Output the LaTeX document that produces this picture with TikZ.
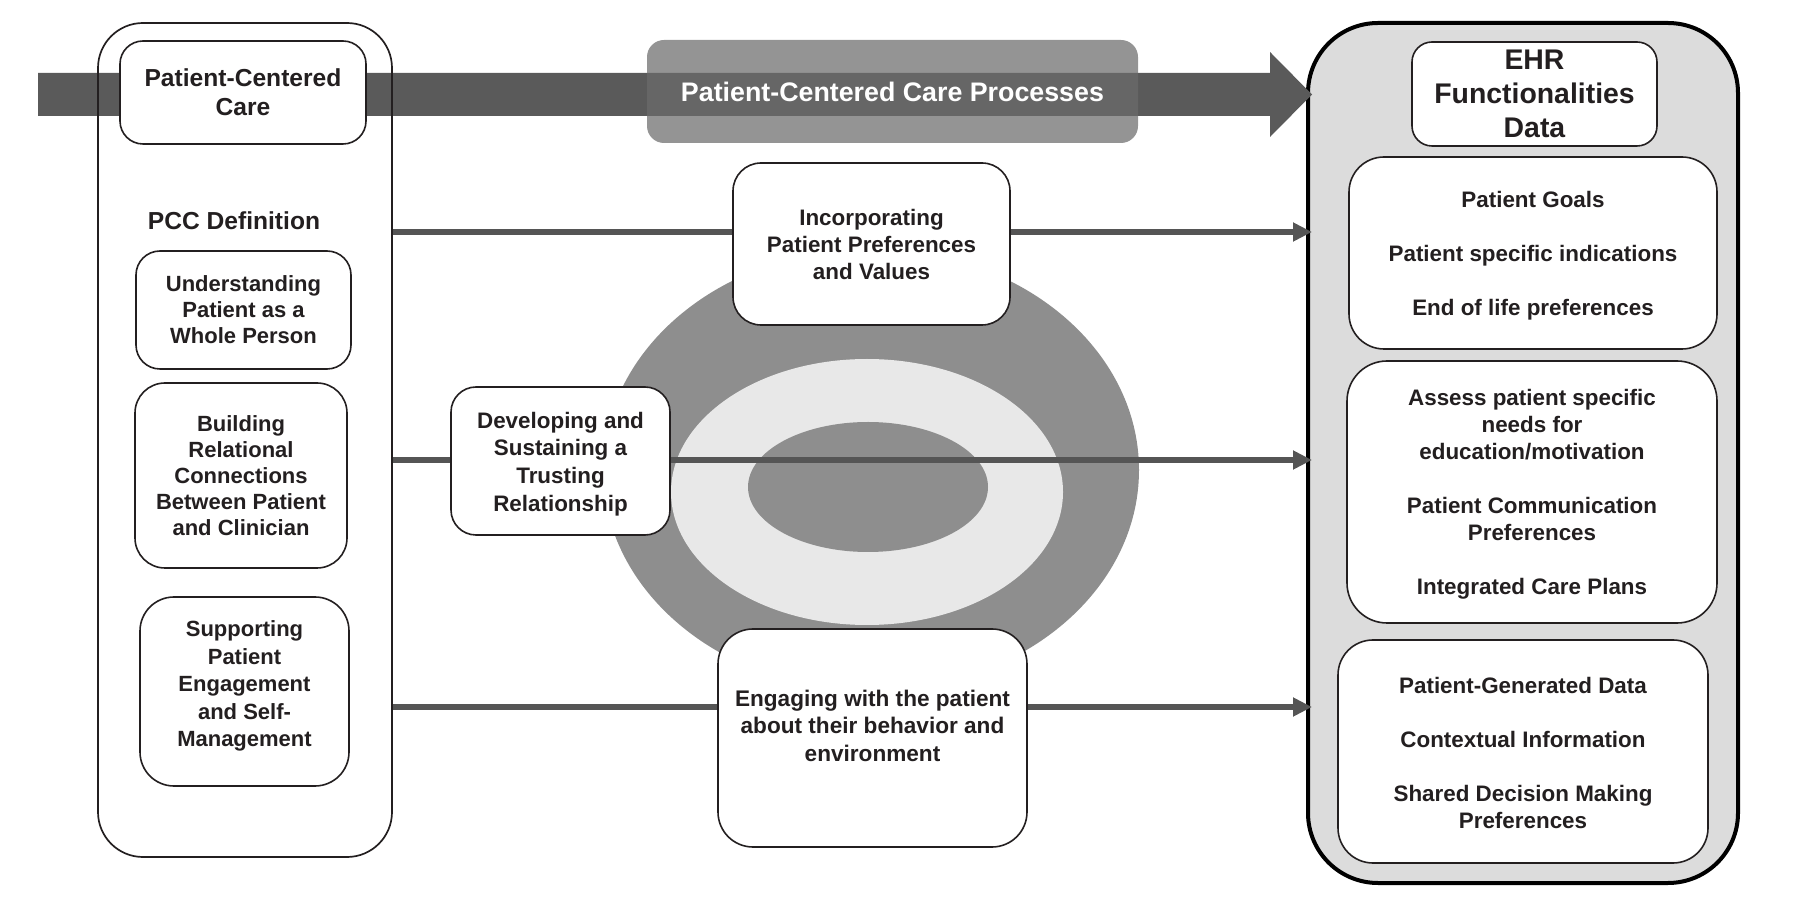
\documentclass[tikz,border=0pt]{standalone}
\usepackage{fontspec}
\setmainfont{Liberation Sans}
\usetikzlibrary{arrows.meta}
\definecolor{bandgray}{RGB}{90,90,90}
\definecolor{ringdark}{RGB}{142,142,142}
\definecolor{ringlight}{RGB}{232,232,232}
\definecolor{conngray}{RGB}{85,85,85}
\definecolor{panelgray}{RGB}{220,220,220}
\definecolor{ink}{RGB}{35,31,32}
\definecolor{titlefill}{RGB}{107,107,107}
\begin{document}
\begin{tikzpicture}[x=0.5pt,y=-0.5pt,
  text=ink,
  box/.style={draw=ink, line width=0.8pt, fill=white, rounded corners=#1, align=center, inner sep=0pt},
  box/.default=12pt,
  body/.style={font=\fontsize{11.2}{13.5}\selectfont\bfseries, align=center},
  lbody/.style={font=\fontsize{11}{13}\selectfont\bfseries, align=center},
  conn/.style={draw=conngray, line width=3pt, -{Triangle[length=9.5pt,width=9pt]}},
]
\useasboundingbox (0,0) rectangle (1805,897);

% target rings
\fill[ringdark] (871,470) ellipse [x radius=134pt, y radius=110.5pt];
\fill[ringlight] (867,492) ellipse [x radius=98pt, y radius=66.5pt];
\fill[ringdark] (868,487) ellipse [x radius=60pt, y radius=32.5pt];

% right panel
\node[draw=black, line width=2pt, fill=panelgray, rounded corners=35pt, minimum width=215pt, minimum height=430pt, inner sep=0pt] (ehr) at (1523,453) {};
\node[box=10pt, minimum width=122.5pt, minimum height=52pt, font=\fontsize{14.2}{17}\selectfont\bfseries] (ehrtitle) at (1534.5,94) {EHR\\Functionalities\\Data};
\node[box=17.5pt, minimum width=184pt, minimum height=96pt] (r1) at (1533,253) {};
\node[body] (r1text) at ([yshift=-1.5pt]r1.center) {Patient Goals\\[13.5pt]Patient specific indications\\[13.5pt]End of life preferences};
\node[box=20pt, minimum width=185pt, minimum height=131pt] (r2) at (1532,492) {};
\node[body] (r2text) at ([yshift=-1.2pt]r2.center) {Assess patient specific\\needs for\\education/motivation\\[13.5pt]Patient Communication\\Preferences\\[13.5pt]Integrated Care Plans};
\node[box=17.5pt, minimum width=185pt, minimum height=111.5pt] (r3) at (1523,751.5) {};
\node[body] (r3text) at ([yshift=-0.8pt]r3.center) {Patient-Generated Data\\[13.5pt]Contextual Information\\[13.5pt]Shared Decision Making\\Preferences};

% process band
\fill[bandgray] (38,73) -- (1270,73) -- (1270,52) -- (1312,94.5) -- (1270,137) -- (1270,116) -- (38,116) -- cycle;
\node[fill=titlefill, fill opacity=0.72, text opacity=1, text=white, rounded corners=8.5pt, minimum width=245.5pt, minimum height=51.5pt, inner sep=0pt, font=\fontsize{13.4}{16}\selectfont\bfseries] (title) at (892.5,91.5) {Patient-Centered Care Processes};

% left column frame
\node[draw=ink, line width=0.85pt, rounded corners=22.5pt, minimum width=147pt, minimum height=417pt, inner sep=0pt] (pcc) at (245,440) {};

% connectors
\coordinate (c1) at (0,232);
\coordinate (c2) at (0,460);
\coordinate (c3) at (0,707);
\draw[conn] (pcc.east |- c1) -- ([xshift=3pt]ehr.west |- c1);
\draw[conn] (pcc.east |- c2) -- ([xshift=3pt]ehr.west |- c2);
\draw[conn] (pcc.east |- c3) -- ([xshift=3pt]ehr.west |- c3);

% middle boxes
\node[box=14pt, body, minimum width=138.5pt, minimum height=81pt] (inc) at (871.5,244) {Incorporating\\Patient Preferences\\and Values};
\node[box=12.5pt, minimum width=109.5pt, minimum height=74pt] (dev) at (560.5,461) {};
\node[body, font=\fontsize{11.2}{13.8}\selectfont\bfseries] (devtext) at ([yshift=-1.5pt]dev.center) {Developing and\\Sustaining a\\Trusting\\Relationship};
\node[box=17.5pt, minimum width=154.5pt, minimum height=109pt] (eng) at (872.5,738) {};
\node[body, font=\fontsize{11.3}{13.75}\selectfont\bfseries] (engtext) at (872.5,725.5) {Engaging with the patient\\about their behavior and\\environment};

% left column contents
\node[box=11.5pt, minimum width=123pt, minimum height=51.5pt, font=\fontsize{12.3}{14.5}\selectfont\bfseries] (pcctitle) at (243,92.5) {Patient-Centered\\Care};
\node[anchor=base, font=\fontsize{12.3}{14}\selectfont\bfseries] (pccdef) at (234,230) {PCC Definition};
\node[box=12pt, lbody, minimum width=107.5pt, minimum height=59pt] (und) at (243.5,310) {Understanding\\Patient as a\\Whole Person};
\node[box=15pt, lbody, minimum width=106pt, minimum height=92.5pt] (bld) at (241,475.5) {Building\\Relational\\Connections\\Between Patient\\and Clinician};
\node[box=17pt, minimum width=104.5pt, minimum height=94.5pt] (sup) at (244.5,691.5) {};
\node[lbody, font=\fontsize{11}{13.8}\selectfont\bfseries] (suptext) at (244.5,686) {Supporting\\Patient\\Engagement\\and Self-\\Management};
\end{tikzpicture}
\end{document}
